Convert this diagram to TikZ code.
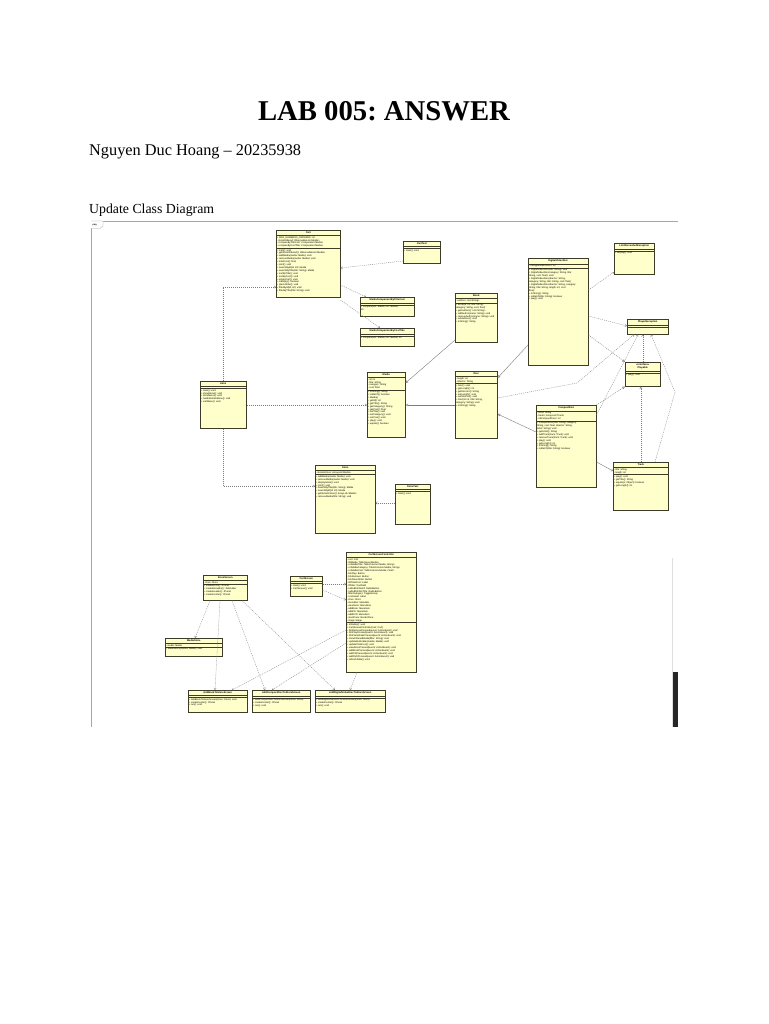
\documentclass[tikz,border=0pt]{standalone}
\usepackage{fontspec}
\setmainfont{Liberation Serif}
\newfontfamily\umlfont{Liberation Sans}
\usepackage{tikz}
\usetikzlibrary{positioning, arrows.meta}
\frenchspacing

\definecolor{clsfill}{RGB}{255,255,204}
\definecolor{clsline}{RGB}{60,60,40}
\definecolor{linkgray}{RGB}{125,125,125}

\newcommand{\memfont}{\umlfont\fontsize{2.4}{2.9}\selectfont}
\newcommand{\clsfont}{\umlfont\bfseries\fontsize{2.5}{2.9}\selectfont}

% one class box: name, x, y, width, height, title, attributes, operations
\newcommand{\umlclass}[8]{%
  \node[cls, minimum width=#4pt, minimum height=#5pt] (#1) at (#2,-#3) {};
  \node[ctitle] (#1-t) at (#1.north) {#6};
  \draw[csep] (#1-t.south -| #1.west) -- (#1-t.south -| #1.east);
  \node[cmem] (#1-a) at (#1-t.south -| #1.west) {#7};
  \draw[csep] (#1-a.south -| #1.west) -- (#1-a.south -| #1.east);
  \node[cmem] (#1-o) at (#1-a.south -| #1.west) {#8};
}

\begin{document}
\begin{tikzpicture}[x=1pt, y=1pt,
    cls/.style = {draw=clsline, fill=clsfill, line width=.55pt,
                  inner sep=0pt, anchor=north west},
    ctitle/.style = {anchor=north, font=\clsfont, align=center,
                     inner xsep=1pt, inner ysep=1.6pt},
    cmem/.style = {anchor=north west, font=\memfont, align=left,
                   inner sep=.8pt},
    csep/.style = {draw=clsline, line width=.3pt}
    ]
    % styles
    \tikzstyle{dep} = [draw=linkgray, line width=.35pt, dash pattern=on 1pt off 1pt,
                       -{Straight Barb[length=1.8pt,width=2.4pt]}]
    \tikzstyle{gen} = [draw=linkgray, line width=.4pt,
                       -{Triangle[open,length=2.6pt,width=2.6pt]}]
    \tikzstyle{real} = [gen, dash pattern=on 1pt off 1pt]
    \tikzstyle{assoc} = [draw=linkgray, line width=.4pt,
                         -{Straight Barb[length=1.8pt,width=2.4pt]}]

    \fill[white] (0,0) rectangle (768,-1024);
    \useasboundingbox (0,0) rectangle (768,-1024);

    % page text
    \node (title) [anchor=base, font=\bfseries\fontsize{28.7}{32}\selectfont, inner sep=0pt]
        at (384,-121) {LAB 005: ANSWER};
    \node (author) [anchor=base west, font=\fontsize{16.3}{19}\selectfont, inner sep=0pt]
        at (89,-156) {Nguyen Duc Hoang -- 20235938};
    \node (caption) [anchor=base west, font=\fontsize{13.8}{16}\selectfont, inner sep=0pt]
        at (89,-214) {Update Class Diagram};

    % diagram frame
    \draw[gray!70, line width=.6pt] (678,-221) -- (91,-221) -- (91,-727);
    \draw[gray!70, line width=.3pt, fill=white] (91,-221) -- (103,-221) -- (103,-226)
        -- (100,-228.5) -- (91,-228.5);
    \node (pkg) [anchor=west, font=\umlfont\bfseries\fontsize{2.2}{2.5}\selectfont, inner sep=0pt]
        at (92.5,-224.8) {pkg};
    \draw[gray!25, line width=.8pt] (672,-558) -- (672,-727);
    \fill[black!85] (673,-672) rectangle (678,-727);

    % classes
    \umlclass{cart}{276}{230}{64}{67}{Cart}
        {+ MAX\_NUMBERS\_ORDERED: int\\- itemsOrdered: ObservableList<Media>\\- compareByTitleCost: Comparator<Media>\\- compareByCostTitle: Comparator<Media>}
        {+ Cart(): void\\+ getItemsOrdered(): ObservableList<Media>\\+ addMedia(media: Media): void\\+ removeMedia(media: Media): void\\+ totalCost(): float\\+ print(): void\\+ searchById(id: int): Media\\+ searchByTitle(title: String): Media\\+ sortByTitle(): void\\+ sortByCost(): void\\+ emptyCart(): void\\+ isEmpty(): boolean\\+ placeOrder(): void\\+ filterById(id: int): void\\+ filterByTitle(title: String): void}
    \umlclass{carttest}{403}{241}{37}{22}{CartTest}{}{+ main(): void}
    \umlclass{mcbtc}{360}{297}{54}{19}{MediaComparatorByTitleCost}{}
        {+ compare(m1: Media, m2: Media):\\int}
    \umlclass{mcbct}{360}{328}{54}{18}{MediaComparatorByCostTitle}{}
        {+ compare(m1: Media, m2: Media): int}
    \umlclass{book}{455}{293}{42}{49}{Book}{- authors: List<String>}
        {+ Book(id: int, title: String,\\category: String, cost: float)\\+ getAuthors(): List<String>\\+ addAuthor(name: String): void\\+ removeAuthor(name: String): void\\+ setAuthors(): void\\+ toString(): String}
    \umlclass{dvd}{528}{258}{60}{107}{DigitalVideoDisc}{- nbDigitalVideoDiscs: int}
        {+ DigitalVideoDisc(title: String): void\\+ DigitalVideoDisc(category: String, title:\\String, cost: float): void\\+ DigitalVideoDisc(director: String,\\category: String, title: String, cost: float)\\+ DigitalVideoDisc(director: String, category:\\String, title: String, length: int, cost:\\float)\\+ toString(): String\\+ isMatch(title: String): boolean\\+ play(): void}
    \umlclass{limitex}{614}{243}{40}{31}{LimitExceededException}{}{+ display(): void}
    \umlclass{playerexc}{627}{319}{41}{15}{PlayerException}{}{}
    \umlclass{playable}{625}{362}{35}{24}{«interface»\\Playable}{}{+ play(): void}
    \umlclass{aims}{200}{381}{46}{47}{Aims}{}
        {+ main(): void\\+ showMenu(): void\\+ storeMenu(): void\\+ mediaDetailsMenu(): void\\+ cartMenu(): void}
    \umlclass{media}{367}{372}{38}{65}{Media}
        {- id: int\\- title: String\\- category: String\\- cost: float}
        {+ toString(): String\\+ isMatch(): boolean\\+ Media()\\+ getId(): int\\+ getTitle(): String\\+ getCategory(): String\\+ getCost(): float\\+ setTitle(): void\\+ setCategory(): void\\+ setCost(): void\\+ play(): void\\+ equals(): boolean}
    \umlclass{disc}{455}{371}{42}{67}{Disc}{- length: int\\- director: String}
        {+ Disc(): void\\+ getLength(): int\\+ getDirector(): String\\+ setLength(): void\\+ setDirector(): void\\+ Disc(id: int, title: String,\\category: String): void\\+ toString(): String}
    \umlclass{cd}{536}{405}{60}{82}{CompactDisc}
        {- artist: String\\- tracks: ArrayList<Track>\\- nbCompactDiscs: int}
        {+ CompactDisc(title: String, category:\\String, cost: float, director: String,\\artist: String): void\\+ getArtist(): String\\+ addTrack(track: Track): void\\+ removeTrack(track: Track): void\\+ play(): void\\+ getLength(): int\\+ toString(): String\\+ isMatch(title: String): boolean}
    \umlclass{track}{613}{462}{55}{48}{Track}{- title: String\\- length: int}
        {+ play(): void\\+ getTitle(): String\\+ equals(o: Object): boolean\\+ getLength(): int}
    \umlclass{store}{315}{465}{60}{68}{Store}{- itemsInStore: ArrayList<Media>}
        {+ addMedia(media: Media): void\\+ removeMedia(media: Media): void\\+ displayStore(): void\\+ print(): void\\+ searchByTitle(title: String): Media\\+ searchById(id: int): Media\\+ getItemsInStore(): ArrayList<Media>\\+ removeMedia(title: String): void}
    \umlclass{storetest}{395}{484}{35}{40}{StoreTest}{}{+ main(): void}

    \umlclass{storescreen}{203}{575}{44}{25}{StoreScreen}{- store: Store}
        {+ createNorth(): JPanel\\+ createMenuBar(): JMenuBar\\+ createHeader(): JPanel\\+ createCenter(): JPanel}
    \umlclass{mediastore}{165}{638}{57}{18}{MediaStore}{- media: Media}
        {+ MediaStore(media: Media): void}
    \umlclass{cartscreen}{290}{576}{32}{20}{CartScreen}{}{+ main(): void\\+ CartScreen(): void}
    \umlclass{csc}{346}{552}{70}{120}{CartScreenController}
        {- cart: Cart\\- tblMedia: TableView<Media>\\- colMediaTitle: TableColumn<Media, String>\\- colMediaCategory: TableColumn<Media, String>\\- colMediaCost: TableColumn<Media, Float>\\- btnPlay: Button\\- btnRemove: Button\\- btnPlaceOrder: Button\\- lblTotalCost: Label\\- tfFilter: TextField\\- radioBtnFilterId: RadioButton\\- radioBtnFilterTitle: RadioButton\\- filterCategory: ToggleGroup\\- costLabel: Label\\- store: Store\\- menuBar: MenuBar\\- viewStore: MenuItem\\- addBook: MenuItem\\- addCD: MenuItem\\- addDVD: MenuItem\\- mainPane: BorderPane\\- stage: Stage}
        {+ initialize(): void\\+ CartScreenController(cart: Cart)\\+ btnRemovePressed(event: ActionEvent): void\\+ btnPlayPressed(event: ActionEvent): void\\+ btnPlaceOrderPressed(event: ActionEvent): void\\+ showFilteredMedia(filter: String): void\\+ updateButtonBar(media: Media): void\\+ updateTotalCost(): void\\+ viewStorePressed(event: ActionEvent): void\\+ addBookPressed(event: ActionEvent): void\\+ addCDPressed(event: ActionEvent): void\\+ addDVDPressed(event: ActionEvent): void\\+ refreshTable(): void}
    \umlclass{addbook}{188}{690}{59}{22}{AddBookToStoreScreen}{}
        {+ AddBookToStoreScreen(store: Store): void\\+ createCenter(): JPanel\\+ run(): void}
    \umlclass{addcd}{252}{690}{58}{22}{AddCompactDiscToStoreScreen}{}
        {+ AddCompactDiscToStoreScreen(store: Store)\\+ createCenter(): JPanel\\+ run(): void}
    \umlclass{adddvd}{315}{690}{70}{22}{AddDigitalVideoDiscToStoreScreen}{}
        {+ AddDigitalVideoDiscToStoreScreen(store: Store)\\+ createCenter(): JPanel\\+ run(): void}

    % connectors, upper part
    \draw [dep] (aims.north) |- (cart.west |- 0,-287);
    \draw [dep] (aims.east |- 0,-405) -- (media.west |- 0,-405);
    \draw [dep] (aims.south) |- (store.west |- 0,-486);
    \draw [dep] (carttest.west |- 0,-261) -- (cart.east |- 0,-268);
    \draw [dep] (cart.east |- 0,-285) -- (mcbtc.north west -| 366,0);
    \draw [dep] (cart.east |- 0,-300) -- (mcbct.north west -| 380,0);
    \draw [gen] (book.west |- 0,-340) -- (media.east |- 0,-383);
    \draw [gen] (disc.west |- 0,-405) -- (media.east |- 0,-405);
    \draw [gen] (dvd.west |- 0,-345) -- (disc.east |- 0,-378);
    \draw [gen] (cd.west |- 0,-432) -- (disc.east |- 0,-414);
    \draw [assoc] (cd.east |- 0,-462) -- (track.west |- 0,-471);
    \draw [dep] (dvd.east |- 0,-290) -- (limitex.west |- 0,-272);
    \draw [dep] (dvd.east |- 0,-316) -- (playerexc.west |- 0,-326);
    \draw [real] (dvd.east |- 0,-335) -- (playable.north west);
    \draw [dep] (disc.east |- 0,-398) -- (577,-383) -- (playerexc.south -| 634,0);
    \draw [real] (cd.north east) -- (playable.south west);
    \draw [dep] (cd.east |- 0,-415) -- (playerexc.south -| 638,0);
    \draw [dep] (playable.north) -- (playable.north |- playerexc.south);
    \draw [real] (track.north) -- (track.north |- playable.south);
    \draw [dep] (track.north -| 655,0) -- (675,-392) -- (playerexc.south -| 651,0);
    \draw [dep] (storetest.west |- 0,-503) -- (store.east |- 0,-503);

    % connectors, lower part
    \draw [dep] (storescreen.south -| 210,0) -- (mediastore.north -| 195,0);
    \draw [dep] (storescreen.south -| 220,0) -- (addbook.north -| 215,0);
    \draw [dep] (storescreen.south -| 232,0) -- (addcd.north -| 265,0);
    \draw [dep] (storescreen.south -| 242,0) -- (adddvd.north -| 335,0);
    \draw [dep] (csc.west |- 0,-630) -- (addbook.north -| 232,0);
    \draw [dep] (csc.west |- 0,-643) -- (addcd.north -| 272,0);
    \draw [dep] (csc.south -| 357,0) -- (adddvd.north -| 350,0);
    \draw [dep] (cartscreen.east |- 0,-584) -- (csc.west |- 0,-584);
    \draw [dep] (cartscreen.east |- 0,-590) -- (csc.west |- 0,-600);
\end{tikzpicture}
\end{document}
